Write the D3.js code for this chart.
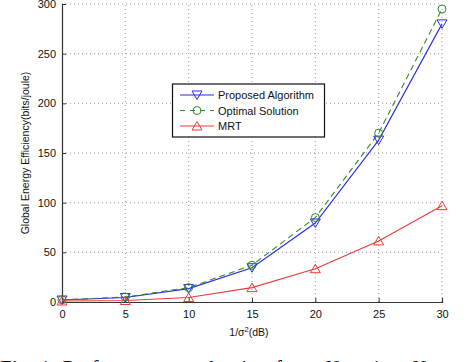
<!DOCTYPE html>
<html><head><meta charset="utf-8">
<script src="https://cdn.jsdelivr.net/npm/d3@7"></script>
<style>body{margin:0;background:#fff}svg{display:block}</style>
</head><body>
<script>
const snr = [0, 5, 10, 15, 20, 25, 30];
const proposed = [2, 4.5, 13.5, 34.5, 79.5, 163, 280];
const optimal = [2.2, 5, 14.5, 37, 85, 170, 295];
const mrt = [1, 1.5, 4.5, 14.5, 33.5, 61.5, 97];
const xTicks = [0, 5, 10, 15, 20, 25, 30];
const yTicks = [0, 50, 100, 150, 200, 250, 300];
const legendLabels = ["Proposed Algorithm", "Optimal Solution", "MRT"];

const W = 474, H = 362;
const svg = d3.select("body").append("svg").attr("width", W).attr("height", H);
const x = d3.scaleLinear().domain([0, 30]).range([62, 442]);
const y = d3.scaleLinear().domain([0, 300]).range([302, 4]);
const font = "'Liberation Sans', Arial, sans-serif";

// grid
const g = svg.append("g");
g.selectAll(".gx").data(xTicks.slice(1)).enter().append("line")
  .attr("x1", d => x(d)).attr("x2", d => x(d)).attr("y1", y(0)).attr("y2", y(300))
  .attr("stroke", "#999").attr("stroke-width", 1).attr("stroke-dasharray", "1,3");
g.selectAll(".gy").data(yTicks.slice(1)).enter().append("line")
  .attr("x1", x(0)).attr("x2", x(30)).attr("y1", d => y(d)).attr("y2", d => y(d))
  .attr("stroke", "#999").attr("stroke-width", 1).attr("stroke-dasharray", "1,3");

// axes
const xAxis = d3.axisBottom(x).tickValues(xTicks).tickSize(-4).tickPadding(8).tickFormat(d3.format("d"));
const yAxis = d3.axisLeft(y).tickValues(yTicks).tickSize(-4).tickPadding(6).tickFormat(d3.format("d"));
const gx = svg.append("g").attr("transform", `translate(0,${y(0)})`).call(xAxis);
const gy = svg.append("g").attr("transform", `translate(${x(0)},0)`).call(yAxis);
[gx, gy].forEach(a => {
  a.select(".domain").attr("stroke", "#333").attr("stroke-width", 1.2);
  a.selectAll(".tick line").attr("stroke", "#333");
  a.selectAll("text").attr("font-family", font).attr("font-size", 11).attr("fill", "#111");
});

// labels
svg.append("text").attr("x", 249).attr("y", 336).attr("text-anchor", "middle")
  .attr("font-family", font).attr("font-size", 10.5).attr("fill", "#111")
  .html('1/σ<tspan dy="-4" font-size="7.5">2</tspan><tspan dy="4">(dB)</tspan>');
svg.append("text").attr("transform", "translate(29,153) rotate(-90)").attr("text-anchor", "middle")
  .attr("font-family", font).attr("font-size", 10.5).attr("fill", "#111")
  .text("Global Energy Efficiency(bits/joule)");

// series
const series = [
  {vals: proposed, color: "#2a2af0", dash: null, marker: "down"},
  {vals: optimal, color: "#2e8b2e", dash: "6,4", marker: "circle"},
  {vals: mrt, color: "#f03a3a", dash: null, marker: "up"}
];
const line = d3.line().x((d, i) => x(snr[i])).y(d => y(d));
function drawMarker(sel, type, cx, cy, color) {
  if (type === "circle") {
    sel.append("circle").attr("cx", cx).attr("cy", cy).attr("r", 4)
      .attr("fill", "none").attr("stroke", color).attr("stroke-width", 1);
  } else {
    const s = 5;
    const pts = type === "down"
      ? [[cx - s, cy - s * 0.8], [cx + s, cy - s * 0.8], [cx, cy + s * 0.9]]
      : [[cx - s, cy + s * 0.8], [cx + s, cy + s * 0.8], [cx, cy - s * 0.9]];
    sel.append("polygon").attr("points", pts.map(p => p.join(",")).join(" "))
      .attr("fill", "none").attr("stroke", color).attr("stroke-width", 1);
  }
}
series.forEach(s => {
  svg.append("path").datum(s.vals).attr("d", line).attr("fill", "none")
    .attr("stroke", s.color).attr("stroke-width", 1.1)
    .attr("stroke-dasharray", s.dash);
});
series.forEach(s => {
  const mg = svg.append("g");
  s.vals.forEach((v, i) => drawMarker(mg, s.marker, x(snr[i]), y(v), s.color));
});

// legend
const lg = svg.append("g");
lg.append("rect").attr("x", 172.5).attr("y", 84).attr("width", 152).attr("height", 53)
  .attr("fill", "#fff").attr("stroke", "#111").attr("stroke-width", 1.2);
const ly = [95, 110.5, 126];
series.forEach((s, i) => {
  lg.append("line").attr("x1", 180).attr("x2", 214).attr("y1", ly[i]).attr("y2", ly[i])
    .attr("stroke", s.color).attr("stroke-width", 1.1).attr("stroke-dasharray", s.dash ? "5,5" : null);
  drawMarker(lg, s.marker, 197, ly[i], s.color);
  lg.append("text").attr("x", 218).attr("y", ly[i] + 4).attr("font-family", font)
    .attr("font-size", 11).attr("fill", "#111").text(legendLabels[i]);
});

// caption, mostly below the visible area (only the tops of letters show)
const serif = "'Liberation Serif', 'Times New Roman', serif";
const capY = 375;
svg.append("text").attr("x", 0).attr("y", capY).attr("font-family", serif)
  .attr("font-size", 21).attr("fill", "#111").attr("textLength", 300).attr("lengthAdjust", "spacing")
  .text("Fig. 1: Performance evaluation for");
svg.append("text").attr("x", 324).attr("y", capY).attr("font-family", serif)
  .attr("font-size", 21).attr("fill", "#111").attr("font-style", "italic").text("N");
svg.append("text").attr("x", 352).attr("y", capY).attr("font-family", serif)
  .attr("font-size", 21).attr("fill", "#111").text("= 4,");
svg.append("text").attr("x", 411).attr("y", capY).attr("font-family", serif)
  .attr("font-size", 21).attr("fill", "#111").attr("font-style", "italic").text("N");
</script>
</body></html>
